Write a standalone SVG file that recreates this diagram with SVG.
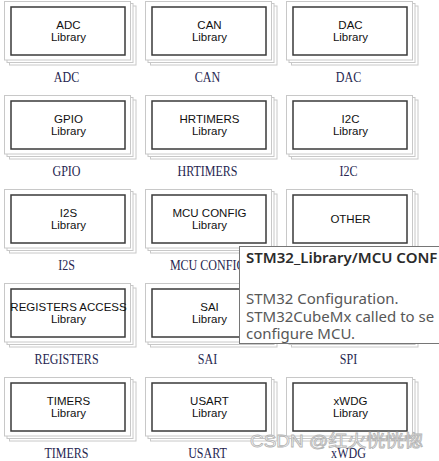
<svg xmlns="http://www.w3.org/2000/svg" xmlns:xlink="http://www.w3.org/1999/xlink" width="439" height="461" viewBox="0 0 439 461">
<style>
.card{fill:#fff;stroke:#c8c8c8;stroke-width:1}
.inner{fill:#fff;stroke:#3a3a3a;stroke-width:1.5}
.t{font-family:"Liberation Sans",Arial,sans-serif;font-size:11.5px;fill:#111;text-anchor:middle}
.lbl{font-family:"Liberation Serif","Times New Roman",serif;font-size:14px;fill:#262650;text-anchor:middle}
.tip{fill:#fff;stroke:#767676;stroke-width:1}
.tt{font-family:"Noto Sans","Open Sans",sans-serif;font-size:15px;font-weight:600;fill:#2b2b2b}
.tb{font-family:"Noto Sans","Open Sans",sans-serif;font-size:15px;fill:#575757}
.wm{font-family:"Liberation Sans","Noto Sans CJK SC",sans-serif;font-size:17px;fill:#fff;stroke:#b4b4b4;stroke-width:0.8}
</style>
<defs>
<g id="stack">
<rect class="card" x="9.5" y="6" width="126.5" height="59"/>
<rect class="card" x="7" y="3.5" width="126" height="59"/>
<rect class="card" x="4.5" y="1.5" width="126" height="58.5"/>
<rect class="inner" x="11" y="7" width="114" height="48"/>
</g>
<g id="stackonly">
<rect class="card" x="9.5" y="6" width="126.5" height="59"/>
<rect class="card" x="7" y="3.5" width="126" height="59"/>
<rect class="card" x="4.5" y="1.5" width="126" height="58.5"/>
</g>
</defs>
<g id="connectors"/>
<g id="adc" transform="translate(0 0)"><use xlink:href="#stack"/><text class="t" x="68.5" y="29">ADC</text><text class="t" x="68.5" y="40.5">Library</text><text class="lbl" transform="translate(66.5 82) scale(0.86 1)">ADC</text></g>
<g id="can" transform="translate(141 0)"><use xlink:href="#stack"/><text class="t" x="68.5" y="29">CAN</text><text class="t" x="68.5" y="40.5">Library</text><text class="lbl" transform="translate(66.5 82) scale(0.86 1)">CAN</text></g>
<g id="dac" transform="translate(282 0)"><use xlink:href="#stack"/><text class="t" x="68.5" y="29">DAC</text><text class="t" x="68.5" y="40.5">Library</text><text class="lbl" transform="translate(66.5 82) scale(0.86 1)">DAC</text></g>
<g id="gpio" transform="translate(0 94)"><use xlink:href="#stack"/><text class="t" x="68.5" y="29">GPIO</text><text class="t" x="68.5" y="40.5">Library</text><text class="lbl" transform="translate(66.5 82) scale(0.86 1)">GPIO</text></g>
<g id="hrtimers" transform="translate(141 94)"><use xlink:href="#stack"/><text class="t" x="68.5" y="29">HRTIMERS</text><text class="t" x="68.5" y="40.5">Library</text><text class="lbl" transform="translate(66.5 82) scale(0.86 1)">HRTIMERS</text></g>
<g id="i2c" transform="translate(282 94)"><use xlink:href="#stack"/><text class="t" x="68.5" y="29">I2C</text><text class="t" x="68.5" y="40.5">Library</text><text class="lbl" transform="translate(66.5 82) scale(0.86 1)">I2C</text></g>
<g id="i2s" transform="translate(0 188)"><use xlink:href="#stack"/><text class="t" x="68.5" y="29">I2S</text><text class="t" x="68.5" y="40.5">Library</text><text class="lbl" transform="translate(66.5 82) scale(0.86 1)">I2S</text></g>
<g id="mcuconfig" transform="translate(141 188)"><use xlink:href="#stack"/><text class="t" x="68.5" y="29">MCU CONFIG</text><text class="t" x="68.5" y="40.5">Library</text><text class="lbl" transform="translate(66.5 82) scale(0.86 1)">MCU CONFIG</text></g>
<g id="other" transform="translate(282 188)"><use xlink:href="#stack"/><text class="t" x="68.5" y="34.5">OTHER</text></g>
<g id="registers" transform="translate(0 282)"><use xlink:href="#stack"/><text class="t" x="68.5" y="29">REGISTERS ACCESS</text><text class="t" x="68.5" y="40.5">Library</text><text class="lbl" transform="translate(66.5 82) scale(0.86 1)">REGISTERS</text></g>
<g id="sai" transform="translate(141 282)"><use xlink:href="#stack"/><text class="t" x="68.5" y="29">SAI</text><text class="t" x="68.5" y="40.5">Library</text><text class="lbl" transform="translate(66.5 82) scale(0.86 1)">SAI</text></g>
<g id="spi" transform="translate(282 282)"><use xlink:href="#stackonly"/><text class="lbl" transform="translate(66.5 82) scale(0.86 1)">SPI</text></g>
<g id="timers" transform="translate(0 376)"><use xlink:href="#stack"/><text class="t" x="68.5" y="29">TIMERS</text><text class="t" x="68.5" y="40.5">Library</text><text class="lbl" transform="translate(66.5 82) scale(0.86 1)">TIMERS</text></g>
<g id="usart" transform="translate(141 376)"><use xlink:href="#stack"/><text class="t" x="68.5" y="29">USART</text><text class="t" x="68.5" y="40.5">Library</text><text class="lbl" transform="translate(66.5 82) scale(0.86 1)">USART</text></g>
<g id="xwdg" transform="translate(282 376)"><use xlink:href="#stack"/><text class="t" x="68.5" y="29">xWDG</text><text class="t" x="68.5" y="40.5">Library</text><text class="lbl" transform="translate(66.5 82) scale(0.86 1)">xWDG</text></g>
<g id="tooltip">
<rect class="tip" x="239.5" y="246.5" width="220" height="97"/>
<text class="tt" x="246" y="262.5">STM32_Library/MCU CONF</text>
<text class="tb" x="246" y="303.5">STM32 Configuration.</text>
<text class="tb" x="246" y="321.5">STM32CubeMx called to se</text>
<text class="tb" x="246" y="339">configure MCU.</text>
</g>
<text class="wm" x="250" y="447" textLength="173" lengthAdjust="spacingAndGlyphs">CSDN @红火恍恍惚</text>
</svg>
